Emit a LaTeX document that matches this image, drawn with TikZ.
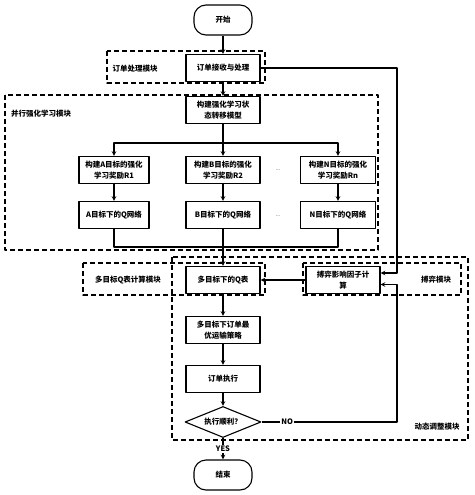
\documentclass[tikz,border=0pt]{standalone}
\usepackage{fontspec}
\setmainfont{Noto Sans CJK SC}
\usetikzlibrary{shapes.geometric}
\tikzset{
	box/.style={draw, line width=1.1pt, minimum width=74pt, minimum height=27pt, inner sep=1pt, align=center},
	term/.style={draw, line width=1.1pt, rounded corners=12pt, minimum width=58pt, minimum height=30pt},
	cond/.style={draw, line width=1.1pt, diamond, aspect=2.4, minimum width=76pt, minimum height=31pt, inner sep=0pt},
	module/.style={line width=1.1pt, dash pattern=on 5pt off 3pt},
	link/.style={line width=1.1pt},
}
\begin{document}
\begin{tikzpicture}[x=1pt, y=-1pt, >=stealth, font=\fontsize{7.5}{11}\selectfont\bfseries, line join=round]
	\useasboundingbox (0,0) rectangle (474,495);
	\def\xm{223} \def\xa{114} \def\xn{338} % Cột
	\def\xr{397} % Đường phải
	% Khung mô-đun
	\draw[module] (107,51) rectangle (265,83);
	\draw[module] (5,95) rectangle (378,250);
	\draw[module] (172,257) rectangle (468,440);
	\draw[module] (83,263) rectangle (265,295);
	\draw[module] (303,263) rectangle (461,295);
	\node (mOrder) at (135,69) {订单处理模块};
	\node (mPar) at (41,114) {并行强化学习模块};
	\node (mQ) at (128,280) {多目标Q表计算模块};
	\node (mGame) at (436,280) {搏弈模块};
	\node (mDyn) at (437,427) {动态调整模块};
	% Các nút
	\node[term] (start) at (\xm,20) {开始};
	\node[box] (recv) at (\xm,68) {订单接收与处理};
	\node[box] (model) at (\xm,110) {构建强化学习状\\态转移模型};
	\node[box, minimum width=70pt] (rA) at (\xa,170) {构建A目标的强化\\学习奖励R1};
	\node[box] (rB) at (\xm,170) {构建B目标的强化\\学习奖励R2};
	\node[box, minimum width=75pt] (rN) at (\xn,170) {构建N目标的强化\\学习奖励Rn};
	\node[box, minimum width=70pt] (qA) at (\xa,215) {A目标下的Q网络};
	\node[box] (qB) at (\xm,215) {B目标下的Q网络};
	\node[box, minimum width=75pt] (qN) at (\xn,215) {N目标下的Q网络};
	\node[font=\fontsize{5}{6}\selectfont] (dotsR) at (278,170) {...};
	\node[font=\fontsize{5}{6}\selectfont] (dotsQ) at (278,216) {...};
	\node[box] (qtab) at (\xm,280) {多目标下的Q表};
	\node[box] (game) at (343,280) {搏弈影响因子计\\算};
	\node[box] (plan) at (\xm,330) {多目标下订单最\\优运输策略};
	\node[box] (exec) at (\xm,379) {订单执行};
	\node[cond] (check) at (\xm,422) {执行顺利？};
	\node[term] (stop) at (\xm,475) {结束};
	\coordinate (split) at (\xm,143);
	\coordinate (join) at (\xm,247);
	\coordinate (rail) at (\xr,0);
	\coordinate (gin1) at ([yshift=7pt]game.east);
	\coordinate (gin2) at ([yshift=-4.5pt]game.east);
	% Mũi tên
	\draw[link,->] (start) -- (recv);
	\draw[link,->] (recv) -- (model);
	\draw[link,->] (recv.east) -| (rail |- gin1) -- (gin1);
	\draw[link,->] (model) -- (rB);
	\draw[link,->] (split) -| (rA);
	\draw[link,->] (split) -| (rN);
	\draw[link,->] (rA) -- (qA);
	\draw[link,->] (rB) -- (qB);
	\draw[link,->] (rN) -- (qN);
	\draw[link] (qA) |- (join) -| (qN);
	\draw[link,->] (qB) -- (qtab);
	\draw[link,->] (game) -- (qtab);
	\draw[link,->] (qtab) -- (plan);
	\draw[link,->] (plan) -- (exec);
	\draw[link,->] (exec) -- (check);
	\draw[link,->] (check.east) -- node[pos=0.19, fill=white, inner sep=1pt] {NO} (check.east -| rail) |- (gin2);
	\draw[link,->] (check) -- node[fill=white, inner sep=1pt] {YES} (stop);
\end{tikzpicture}
\end{document}
